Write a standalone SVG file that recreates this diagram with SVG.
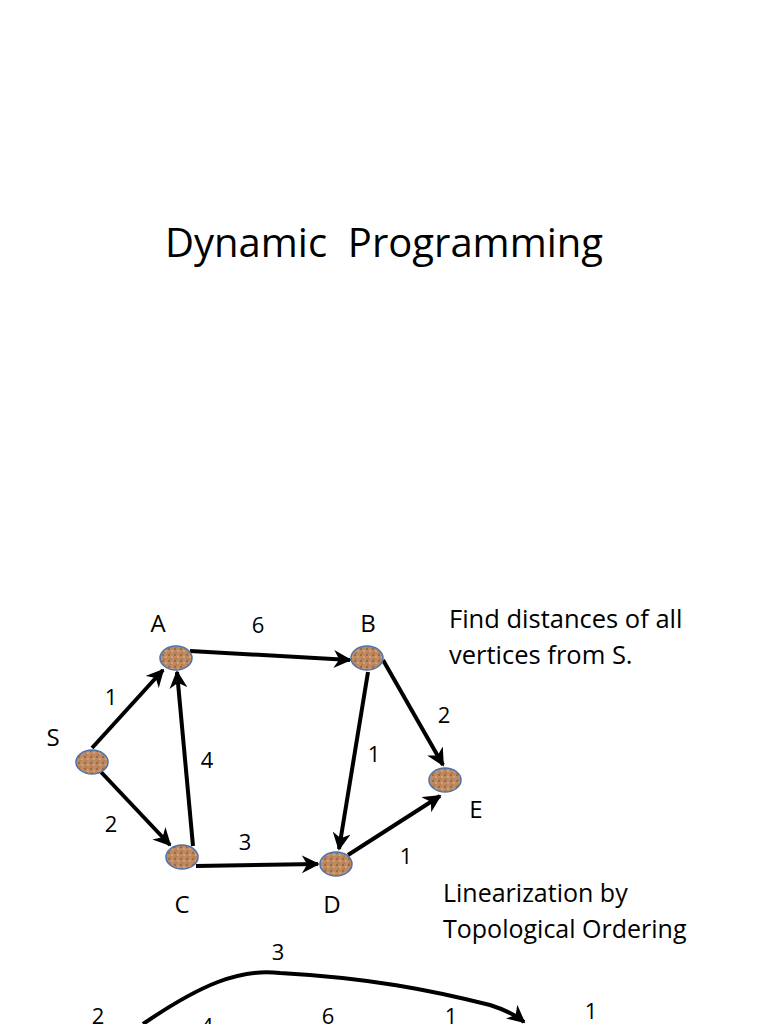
<svg xmlns="http://www.w3.org/2000/svg" width="768" height="1024" viewBox="0 0 768 1024">
<style>
text{font-family:"Open Sans","Liberation Sans",sans-serif;fill:#000}
.t{font-size:24px}
.n{fill:url(#tex);stroke:#4a72b0;stroke-width:1.5}
.e{stroke:#000;stroke-width:4;fill:none;marker-end:url(#ah)}
</style>
<defs>
<pattern id="tex" width="6" height="6" patternUnits="userSpaceOnUse">
<rect width="6" height="6" fill="#c08a60"/>
<circle cx="1" cy="1" r="0.9" fill="#8a5a36"/>
<circle cx="4" cy="3" r="0.8" fill="#e2bc98"/>
<circle cx="2" cy="5" r="0.7" fill="#9c6a44"/>
</pattern>
<marker id="ah" viewBox="0 0 10 10" refX="9" refY="5" markerWidth="4.5" markerHeight="4.5" orient="auto" markerUnits="strokeWidth">
<path d="M0,0 L10,5 L0,10 L3,5 z" fill="#000"/>
</marker>
</defs>
<rect width="768" height="1024" fill="#fff"/>
<text x="384" y="257" font-size="40" text-anchor="middle" xml:space="preserve">Dynamic  Programming</text>
<g id="connectors">
<line class="e" x1="92" y1="748" x2="163" y2="670"/>
<line class="e" x1="101" y1="772" x2="170" y2="845"/>
<line class="e" x1="193" y1="846" x2="177" y2="672"/>
<line class="e" x1="190" y1="651" x2="350" y2="660"/>
<line class="e" x1="196" y1="866" x2="318" y2="864"/>
<line class="e" x1="368" y1="672" x2="339" y2="849"/>
<line class="e" x1="383" y1="660" x2="443" y2="765"/>
<line class="e" x1="348" y1="855" x2="440" y2="796"/>
<path class="e" d="M143,1024 C200,985 240,968 280,973 C370,978 430,990 490,1005 Q512,1012 524,1022"/>
</g>
<g id="S"><ellipse class="n" cx="92" cy="762" rx="16" ry="12"/><text class="t" x="53" y="746" text-anchor="middle">S</text></g>
<g id="A"><ellipse class="n" cx="176" cy="658" rx="16" ry="12"/><text class="t" x="158" y="632" text-anchor="middle">A</text></g>
<g id="B"><ellipse class="n" cx="367" cy="658" rx="16" ry="12"/><text class="t" x="368" y="632" text-anchor="middle">B</text></g>
<g id="E"><ellipse class="n" cx="445" cy="780" rx="16" ry="12"/><text class="t" x="476" y="818" text-anchor="middle">E</text></g>
<g id="C"><ellipse class="n" cx="182" cy="857" rx="16" ry="12"/><text class="t" x="182" y="913" text-anchor="middle">C</text></g>
<g id="D"><ellipse class="n" cx="336" cy="864" rx="16" ry="12"/><text class="t" x="332" y="913" text-anchor="middle">D</text></g>
<g id="labels" font-size="22">
<text x="111" y="705" text-anchor="middle" font-size="22">1</text>
<text x="111" y="832" text-anchor="middle" font-size="22">2</text>
<text x="207" y="768" text-anchor="middle" font-size="22">4</text>
<text x="258" y="633" text-anchor="middle" font-size="22">6</text>
<text x="245" y="850" text-anchor="middle" font-size="22">3</text>
<text x="374" y="762" text-anchor="middle" font-size="22">1</text>
<text x="444" y="723" text-anchor="middle" font-size="22">2</text>
<text x="406" y="864" text-anchor="middle" font-size="22">1</text>
<text x="449" y="628" font-size="25.5">Find distances of all</text>
<text x="449" y="664" font-size="25.5">vertices from S.</text>
<text x="443" y="902" font-size="25">Linearization by</text>
<text x="443" y="938" font-size="25">Topological Ordering</text>
<text x="278" y="960" text-anchor="middle" font-size="22">3</text>
<text x="98" y="1024" text-anchor="middle" font-size="22">2</text>
<text x="207" y="1034" text-anchor="middle" font-size="22">4</text>
<text x="328" y="1024" text-anchor="middle" font-size="22">6</text>
<text x="451" y="1024" text-anchor="middle" font-size="22">1</text>
<text x="591" y="1019" text-anchor="middle" font-size="22">1</text>
</g>
</svg>
